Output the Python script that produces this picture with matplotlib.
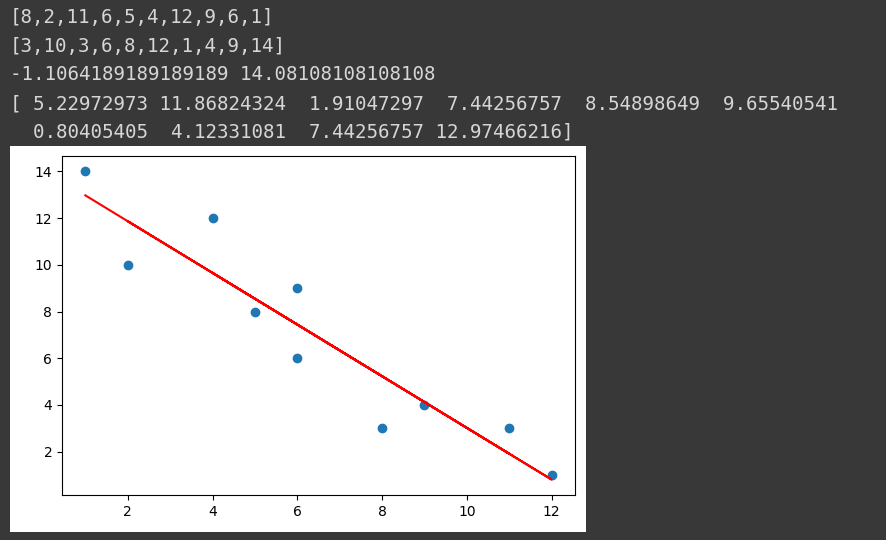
import matplotlib
matplotlib.use("Agg")
import matplotlib.pyplot as plt
import numpy as np
from matplotlib.patches import Rectangle

x = [8, 2, 11, 6, 5, 4, 12, 9, 6, 1]
y = [3, 10, 3, 6, 8, 12, 1, 4, 9, 14]
slope, intercept = np.polyfit(x, y, 1)
pred = slope * np.array(x) + intercept

lines = [
    "[8,2,11,6,5,4,12,9,6,1]",
    "[3,10,3,6,8,12,1,4,9,14]",
    "-1.1064189189189189 14.08108108108108",
    "[ 5.22972973 11.86824324  1.91047297  7.44256757  8.54898649  9.65540541",
    "  0.80405405  4.12331081  7.44256757 12.97466216]",
]

W, H = 887, 540
fig = plt.figure(figsize=(W / 100, H / 100), dpi=100, facecolor="#383838")
for i, t in enumerate(lines):
    fig.text(10 / W, 1 - (18 + i * 28.5) / H, t, family="DejaVu Sans Mono",
             fontsize=13.8, color="#d6d6d6", va="center", ha="left")
fig.patches.append(Rectangle((10 / W, 1 - 532 / H), 576 / W, 386 / H,
                             transform=fig.transFigure, facecolor="white",
                             edgecolor="none", zorder=-10))
ax = fig.add_axes([62 / W, 1 - 495 / H, 513 / W, 339 / H])
ax.set_zorder(5)
ax.scatter(x, y)
ax.plot(x, pred, color="red")
fig.savefig("out.png", dpi=100, facecolor=fig.get_facecolor())
